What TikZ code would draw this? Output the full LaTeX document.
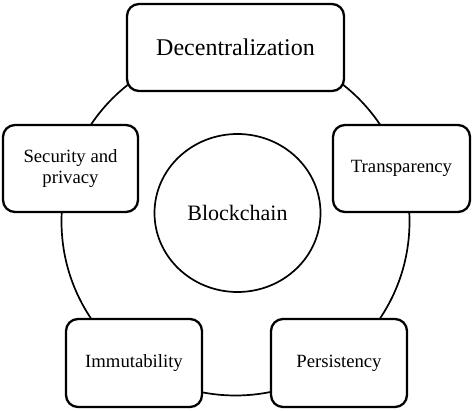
\documentclass[tikz,border=0pt]{standalone}
\usepackage{fontspec}
\setmainfont{Liberation Serif}
\usetikzlibrary{shapes.geometric}
\begin{document}
\begin{tikzpicture}[x=1pt,y=-1pt,
  featbox/.style={draw=black, fill=white, line width=2.3pt, rounded corners=12pt,
    inner sep=0pt, align=center, font=\fontsize{18.7}{21}\selectfont},
  ringline/.style={draw=black, line width=1.7pt, inner sep=0pt}]
\useasboundingbox (0,0) rectangle (474,411);
\fill[white] (0,0) rectangle (474,411);
\node[ringline, circle, minimum size=348pt] (ring) at (235.5,221.5) {};
\node[ringline, ellipse, minimum width=166pt, minimum height=158pt,
  font=\fontsize{22}{26}\selectfont] (blk) at (237.5,213) {Blockchain};
\node[featbox, minimum width=217pt, minimum height=87pt,
  font=\fontsize{24}{28}\selectfont] (dec) at (235.5,47.5) {Decentralization};
\node[featbox, minimum width=135pt, minimum height=87pt] (sec) at (70.5,168.5) {Security and\\privacy};
\node[featbox, minimum width=137pt, minimum height=87pt] (tra) at (401.5,168.5) {Transparency};
\node[featbox, minimum width=136pt, minimum height=88pt] (imm) at (134,363) {Immutability};
\node[featbox, minimum width=136pt, minimum height=88pt] (per) at (339,363) {Persistency};
\end{tikzpicture}
\end{document}
